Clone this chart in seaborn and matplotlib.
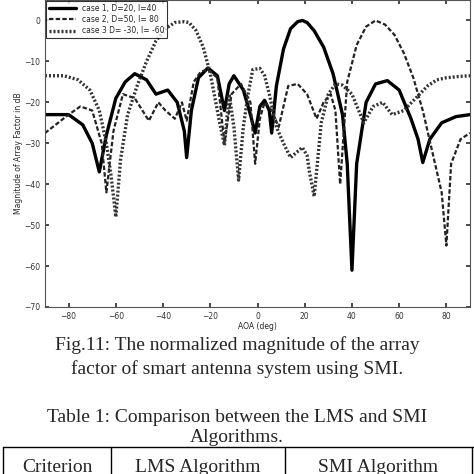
import matplotlib
matplotlib.use("Agg")
import matplotlib.pyplot as plt
import seaborn as sns
import pandas as pd
from matplotlib.lines import Line2D

# Case 1, D=20, I=40
case1_x = [-90, -80, -74, -70, -67, -64, -60, -56, -52, -47, -43, -38, -34, -31, -30, -28, -25, -21, -17, -14, -12, -10, -6, -3, -1, 1, 3, 5, 6, 8, 11, 14, 17, 19, 21, 24, 28, 32, 36, 38, 40, 42, 46, 50, 55, 60, 65, 68, 70, 73, 78, 84, 90]
case1_y = [-23, -23, -25.5, -30, -37, -28, -19, -15, -13, -14.5, -18, -17, -20, -27, -33.5, -22, -14, -11.6, -13.5, -22, -15.5, -13.5, -17, -23, -27.5, -21, -19.5, -22, -27.5, -16, -7, -2, -0.3, 0, -0.5, -2.5, -6.5, -13, -23, -35, -61, -35, -20, -15.5, -14.7, -17, -24, -29, -34.7, -29, -25, -23.5, -23]
# Case 2, D=50, I=80
case2_x = [-90, -80, -75, -70, -66, -64, -61, -57, -52, -46, -42, -39, -35, -32, -30, -27, -24, -21, -17, -14, -11, -7, -3, -1, 1, 3, 6, 9, 13, 17, 21, 25, 28, 31, 33, 35, 38, 42, 46, 50, 54, 58, 62, 66, 70, 74, 78, 80, 82, 86, 90]
case2_y = [-27.5, -23, -21, -22, -30, -42, -27, -18, -19, -24.5, -20, -22, -24, -20, -24.5, -15, -12.5, -12, -14, -30, -18, -15.5, -20, -35, -24, -20, -22, -26, -16, -15.5, -18, -24, -20, -18, -22, -40, -15, -6, -1.5, 0, -1, -3.5, -8, -14, -22, -32, -42, -55, -35, -29, -27.5]
# Case 3, D=-30, I=-60
case3_x = [-90, -82, -76, -71, -67, -64, -62, -60, -58, -55, -51, -47, -43, -39, -35, -31, -29, -26, -23, -20, -18, -16, -14, -12, -10, -8, -6, -4, -2, 1, 3, 5, 8, 11, 14, 16, 19, 21, 22, 24, 27, 30, 33, 36, 40, 45, 49, 53, 57, 62, 67, 72, 76, 80, 85, 90]
case3_y = [-13.5, -13.5, -14.5, -17, -22, -30, -38, -48, -34, -23, -16, -10, -5, -2, -0.5, -0.3, -0.5, -2.5, -6.5, -13, -19, -25, -30.5, -18, -26, -39, -26, -18, -12, -11.7, -13.5, -18, -26, -30, -33.5, -32.5, -31, -33, -37, -43, -25, -18, -15.5, -15.8, -18, -25, -21, -20, -23, -22, -19, -16, -14.5, -14, -13.7, -13.5]

x_ticks = [-80, -60, -40, -20, 0, 20, 40, 60, 80]
y_ticks = [-70, -60, -50, -40, -30, -20, -10, 0]

labels = ["case 1, D=20, I=40", "case 2, D=50, I= 80", "case 3 D= -30, I= -60"]

sns.set_theme(style="white")
plt.rcParams["font.family"] = ["DejaVu Sans"]

fig = plt.figure(figsize=(4.74, 4.74), dpi=100)
ax = fig.add_axes([45 / 474, 167 / 474, 425 / 474, 307 / 474])

df1 = pd.DataFrame({"x": case1_x, "y": case1_y})
df2 = pd.DataFrame({"x": case2_x, "y": case2_y})
df3 = pd.DataFrame({"x": case3_x, "y": case3_y})
sns.lineplot(data=df1, x="x", y="y", ax=ax, color="black", linewidth=2.4, sort=False)
sns.lineplot(data=df2, x="x", y="y", ax=ax, color="#222222", linewidth=1.6, linestyle=(0, (2, 1)), sort=False)
sns.lineplot(data=df3, x="x", y="y", ax=ax, color="#333333", linewidth=2.4, linestyle=(0, (0.6, 0.6)), sort=False)

ax.set_xlim(-90, 90)
ax.set_ylim(-70, 5)
ax.set_xticks(x_ticks)
ax.set_yticks(y_ticks)
ax.tick_params(labelsize=5.5, direction="in", length=3, colors="#333333")
ax.tick_params(top=True, right=True, bottom=True, left=True)
ax.set_xlabel("AOA (deg)", fontsize=5.5, labelpad=1)
ax.set_ylabel("Magnitude of Array Factor in dB", fontsize=5.5, labelpad=1)
for s in ax.spines.values():
    s.set_color("#555555")
    s.set_linewidth(0.8)

handles = [
    Line2D([], [], color="black", linewidth=2.4),
    Line2D([], [], color="#222222", linewidth=1.6, linestyle=(0, (2, 1))),
    Line2D([], [], color="#333333", linewidth=2.4, linestyle=(0, (0.6, 0.6))),
]
leg = ax.legend(handles, labels, loc="upper left", fontsize=5.5, frameon=True,
                fancybox=False, borderaxespad=0.1, handlelength=3.5, labelspacing=0.3)
leg.get_frame().set_edgecolor("black")
leg.get_frame().set_linewidth(0.8)

serif = ["Liberation Serif", "DejaVu Serif"]
for txt, yp in [("Fig.11: The normalized magnitude of the array", 345),
                ("factor of smart antenna system using SMI.", 369),
                ("Table 1: Comparison between the LMS and SMI", 418),
                ("Algorithms.", 437)]:
    fig.text(0.5, 1 - yp / 474, txt, ha="center", va="center", fontsize=14, family=serif)

# table header row (cut off at the bottom)
top_y = 1 - 447 / 474
fig.add_artist(Line2D([3 / 474, 1], [top_y, top_y], color="black", linewidth=1))
for xp in [3, 111, 285, 472]:
    fig.add_artist(Line2D([xp / 474, xp / 474], [0, top_y], color="black", linewidth=1))
for txt, xp in [("Criterion", 57), ("LMS Algorithm", 198), ("SMI Algorithm", 378)]:
    fig.text(xp / 474, 1 - 467 / 474, txt, ha="center", va="center", fontsize=14, family=serif)

fig.savefig("out.png", dpi=100)
